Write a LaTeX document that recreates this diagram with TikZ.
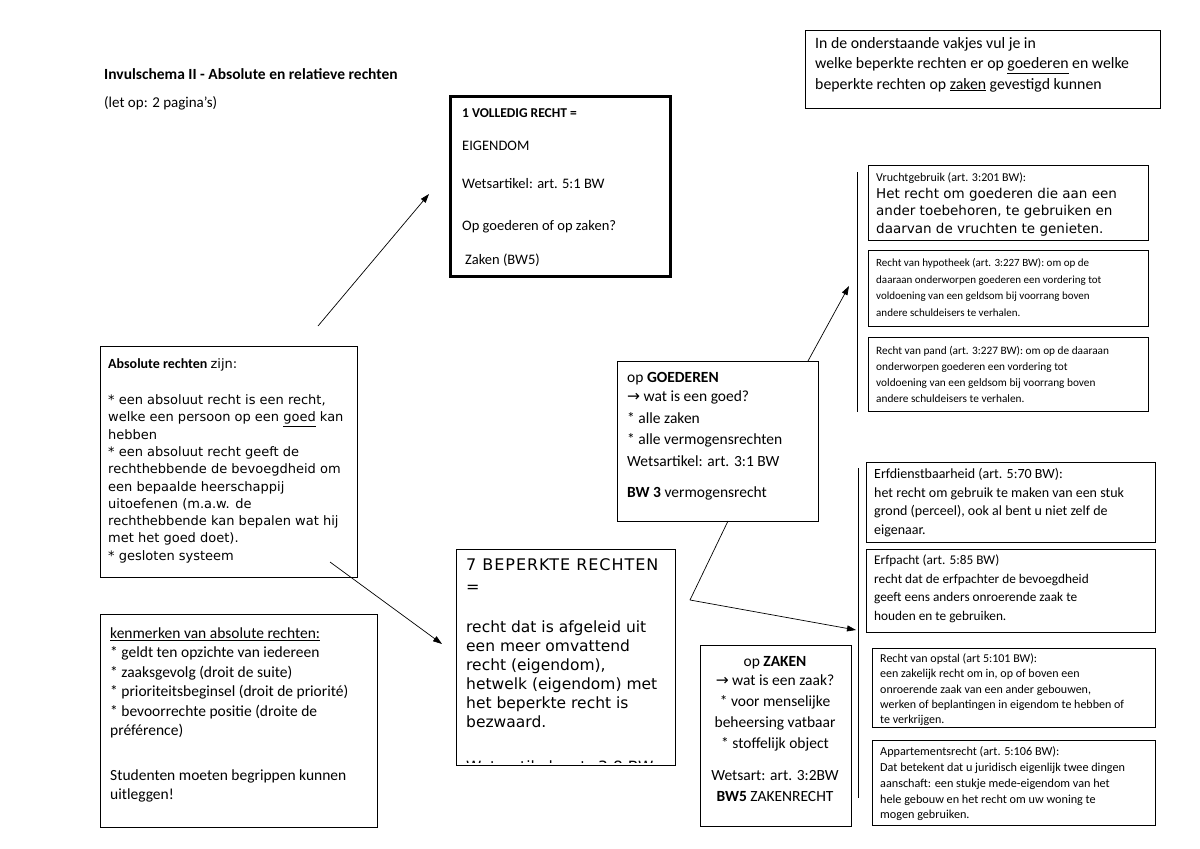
\documentclass[tikz,border=0pt]{standalone}
\usepackage{fontspec}
\setmainfont{Carlito}
\newfontfamily\verd{DejaVu Sans}
\newfontfamily\verdsp[LetterSpace=6]{DejaVu Sans}
\usetikzlibrary{arrows.meta}
\newcommand\fsz[2]{\fontsize{#1pt}{#2pt}\selectfont}
\begin{document}
\begin{tikzpicture}[x=1pt,y=-1pt,
  box/.style={draw, line width=1.2pt, inner sep=0pt, anchor=north west},
  txt/.style={inner sep=0pt, anchor=north west, align=left},
  ln/.style={inner sep=0pt, anchor=base west},
  lnc/.style={inner sep=0pt, anchor=base},
  arr/.style={line width=0.7pt, -{Triangle[length=9pt,width=6pt]}},
  thin/.style={line width=0.7pt}]
\useasboundingbox[fill=white] (0,0) rectangle (1200,849);

% title
\node[ln, font=\fsz{15.5}{18}\bfseries] (title) at (104,79) {Invulschema II - Absolute en relatieve rechten};
\node[ln, font=\fsz{15}{18}] (letop) at (104,107) {(let op: 2 pagina’s)};

% top right box
\node[box, minimum width=355pt, minimum height=78pt] (tr) at (805,30) {};
\node[txt, font=\fsz{15.8}{20.5}] (trt) at (815,37) {In de onderstaande vakjes vul je in\\welke beperkte rechten er op \underline{goederen} en welke\\beperkte rechten op \underline{zaken} gevestigd kunnen};

% eigendom box
\node[box, line width=3pt, minimum width=220pt, minimum height=180pt] (eig) at (449,95) {};
\node[ln, font=\fsz{13.5}{17}\bfseries] (e1) at (462,117) {1 VOLLEDIG RECHT =};
\node[ln, font=\fsz{14.5}{17}] (e2) at (462,150) {EIGENDOM};
\node[ln, font=\fsz{14.5}{17}] (e3) at (462,188) {Wetsartikel: art. 5:1 BW};
\node[ln, font=\fsz{14.5}{17}] (e4) at (462,230) {Op goederen of op zaken?};
\node[ln, font=\fsz{14.5}{17}] (e5) at (465,264) {Zaken (BW5)};

% absolute rechten box
\node[box, minimum width=257pt, minimum height=231pt] (abs) at (100,346) {};
\node[ln, font=\fsz{14}{16}] (abst) at (108,368) {\textbf{Absolute rechten} {\verd\fsz{13}{16}zijn:}};
\node[txt, font=\verd\fsz{13}{17.3}] (absb) at (108,394.5) {* een absoluut recht is een recht,\\welke een persoon op een \underline{goed} kan\\hebben\\* een absoluut recht geeft de\\rechthebbende de bevoegdheid om\\een bepaalde heerschappij\\uitoefenen (m.a.w. de\\rechthebbende kan bepalen wat hij\\met het goed doet).\\* gesloten systeem};

% kenmerken box
\node[box, minimum width=277pt, minimum height=213pt] (ken) at (100,614) {};
\node[txt, font=\fsz{15.5}{19.4}] (kent) at (110,627.5) {\underline{kenmerken van absolute rechten:}\\* geldt ten opzichte van iedereen\\* zaaksgevolg (droit de suite)\\* prioriteitsbeginsel (droit de priorité)\\* bevoorrechte positie (droite de\\préférence)};
\node[txt, font=\fsz{15.5}{19.4}] (kens) at (110,769.5) {Studenten moeten begrippen kunnen\\uitleggen!};

% beperkte rechten box
\node[box, minimum width=219pt, minimum height=216pt] (bep) at (456,549) {};
\node[ln, font=\verdsp\fsz{16}{19}] (b1) at (466,570) {7 BEPERKTE RECHTEN};
\node[ln, font=\verd\fsz{16}{19}] (b2) at (466,592) {=};
\node[txt, font=\verd\fsz{15.5}{19}] (bb) at (466,620.5) {recht dat is afgeleid uit\\een meer omvattend\\recht (eigendom),\\hetwelk (eigendom) met\\het beperkte recht is\\bezwaard.};
\begin{scope}
\clip (457,550) rectangle (674,762);
\node[ln, font=\verd\fsz{15.5}{19}] (bw) at (466,772) {Wetsartikel: art. 3:8 BW};
\end{scope}

% goederen box
\node[box, minimum width=201pt, minimum height=160pt] (goed) at (617,361) {};
\node[ln, font=\fsz{15.5}{19}] (g1) at (627,382) {op \textbf{GOEDEREN}};
\node[ln, font=\fsz{15.5}{19}] (g2) at (627,401) {{\verd →} wat is een goed?};
\node[ln, font=\fsz{15.5}{19}] (g3) at (627,423) {* alle zaken};
\node[ln, font=\fsz{15.5}{19}] (g4) at (627,444) {* alle vermogensrechten};
\node[ln, font=\fsz{15.5}{19}] (g5) at (627,466) {Wetsartikel: art. 3:1 BW};
\node[ln, font=\fsz{15.5}{19}] (g6) at (627,497) {\textbf{BW 3} vermogensrecht};

% zaken box
\node[box, minimum width=151pt, minimum height=181pt] (zak) at (700,645) {};
\node[lnc, font=\fsz{15.5}{19}] (z1) at (775,666) {op \textbf{ZAKEN}};
\node[lnc, font=\fsz{15.5}{19}] (z2) at (775,685) {{\verd →} wat is een zaak?};
\node[lnc, font=\fsz{15.5}{19}] (z3) at (775,706) {* voor menselijke};
\node[lnc, font=\fsz{15.5}{19}] (z4) at (775,727) {beheersing vatbaar};
\node[lnc, font=\fsz{15.5}{19}] (z5) at (775,748) {* stoffelijk object};
\node[lnc, font=\fsz{15.5}{19}] (z6) at (775,780) {Wetsart: art. 3:2BW};
\node[lnc, font=\fsz{15.5}{19}] (z7) at (775,801) {\textbf{BW5} ZAKENRECHT};

% right column boxes (goederen)
\node[box, minimum width=280pt, minimum height=75pt] (vr) at (868,165) {};
\node[ln, font=\fsz{12}{14}] (vrt) at (876,181) {Vruchtgebruik (art. 3:201 BW):};
\node[txt, font=\verd\fsz{13.5}{17.5}] (vrb) at (876,188) {Het recht om goederen die aan een\\ander toebehoren, te gebruiken en\\daarvan de vruchten te genieten.};

\node[box, minimum width=280pt, minimum height=76pt] (hyp) at (868,250) {};
\node[txt, font=\fsz{11}{16.5}] (hypt) at (876,258.5) {Recht van hypotheek (art. 3:227 BW): om op de\\daaraan onderworpen goederen een vordering tot\\voldoening van een geldsom bij voorrang boven\\andere schuldeisers te verhalen.};

\node[box, minimum width=280pt, minimum height=74pt] (pand) at (868,337) {};
\node[txt, font=\fsz{11.3}{16}] (pandt) at (876,346.5) {Recht van pand (art. 3:227 BW): om op de daaraan\\onderworpen goederen een vordering tot\\voldoening van een geldsom bij voorrang boven\\andere schuldeisers te verhalen.};

% right column boxes (zaken)
\node[box, minimum width=289pt, minimum height=80pt] (erfd) at (866,462) {};
\node[txt, font=\fsz{14}{18.5}] (erfdt) at (874,468.5) {Erfdienstbaarheid (art. 5:70 BW):\\het recht om gebruik te maken van een stuk\\grond (perceel), ook al bent u niet zelf de\\eigenaar.};

\node[box, minimum width=289pt, minimum height=83pt] (erfp) at (866,549) {};
\node[txt, font=\fsz{13.3}{18.7}] (erfpt) at (874,554.5) {Erfpacht (art. 5:85 BW)\\recht dat de erfpachter de bevoegdheid\\geeft eens anders onroerende zaak te\\houden en te gebruiken.};

\node[box, minimum width=283pt, minimum height=79pt] (ops) at (872,648) {};
\node[txt, font=\fsz{12}{15.3}] (opst) at (880,653.5) {Recht van opstal (art 5:101 BW):\\een zakelijk recht om in, op of boven een\\onroerende zaak van een ander gebouwen,\\werken of beplantingen in eigendom te hebben of\\te verkrijgen.};

\node[box, minimum width=283pt, minimum height=85pt] (app) at (872,740) {};
\node[txt, font=\fsz{12.2}{15.8}] (appt) at (880,746.5) {Appartementsrecht (art. 5:106 BW):\\Dat betekent dat u juridisch eigenlijk twee dingen\\aanschaft: een stukje mede-eigendom van het\\hele gebouw en het recht om uw woning te\\mogen gebruiken.};

% bracket lines
\coordinate (v1a) at (857,172);
\coordinate (v1b) at (857,412);
\coordinate (v2a) at (858,468);
\coordinate (v2b) at (858,798);
\draw[thin] (v1a) -- (v1b);
\draw[thin] (v2a) -- (v2b);

% arrows
\coordinate (a1s) at (318,326);
\coordinate (a1e) at (429,194);
\draw[arr] (a1s) -- (a1e);
\coordinate (a2s) at (330,562);
\coordinate (a2e) at (442,644);
\draw[arr] (a2s) -- (a2e);
\coordinate (a3s) at (808,361);
\coordinate (a3e) at (849,286);
\draw[arr] (a3s) -- (a3e);
\coordinate (gb) at (728,521);
\coordinate (kn) at (690,600);
\coordinate (a4e) at (856,630);
\draw[thin] (gb) -- (kn);
\draw[arr] (kn) -- (a4e);
\end{tikzpicture}
\end{document}
